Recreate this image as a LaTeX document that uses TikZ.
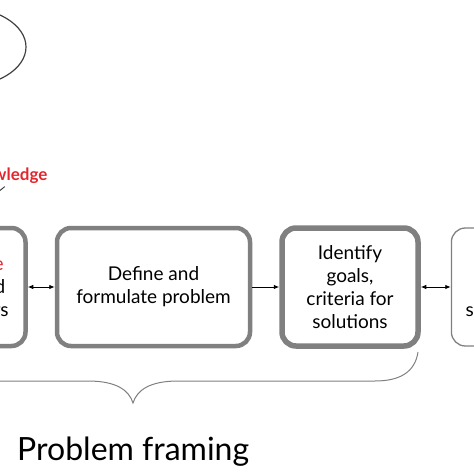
\documentclass[tikz,border=0pt]{standalone}
\usepackage{fontspec}
\setmainfont{Lato}
\usetikzlibrary{arrows.meta,positioning,shapes.geometric}
\definecolor{boxgray}{HTML}{808080}
\definecolor{knowred}{HTML}{E3262E}

\begin{document}
\begin{tikzpicture}[
  x=1pt,y=-1pt,
  node distance=27pt,
  stage/.style={draw=boxgray,line width=4.5pt,rounded corners=14pt,align=center,minimum width=134pt,minimum height=118pt,inner sep=2pt,font=\fontsize{19}{23}\selectfont},
  thinstage/.style={stage,line width=1.3pt},
  flow/.style={-{Latex[length=5.5pt,width=4.5pt]},line width=0.9pt},
  twoway/.style={{Latex[length=5.5pt,width=4.5pt]}-{Latex[length=5.5pt,width=4.5pt]},line width=0.9pt}
]
\useasboundingbox (0,0) rectangle (474,474);
\node[draw=black!75,line width=1.2pt,ellipse,minimum width=130pt,minimum height=80pt] (idea) at (-39,47) {};
\node[stage,minimum width=193pt] (n1) at (153.5,287) {Define and\\formulate problem};
\node[stage,left=of n1,minimum width=139pt] (n0) {\textcolor{knowred}{Explore the}\\context and\\stakeholders};
\node[stage,right=of n1,minimum width=136pt,line width=5.5pt] (n2) {Identify\\goals,\\criteria for\\solutions};
\node[thinstage,right=30pt of n2,minimum width=104pt] (n3) {Search\\for\\solutions};
\node[text=knowred,font=\bfseries\fontsize{17}{20}\selectfont,anchor=base east] (know) at (51,180) {Knowledge};
\draw[flow,black!80] (know.south) -- (n0.north);
\draw[twoway] (n0) -- (n1);
\draw[flow] (n1) -- (n2);
\draw[twoway] (n2) -- (n3);
% brace under the framing steps
\draw[boxgray,line width=1pt] (418,352) .. controls (415,372) and (400,381) .. (375,381) -- (178,381) .. controls (150,381) and (137,390) .. (133,403) .. controls (129,390) and (116,381) .. (88,381) -- (-110,381);
\node[anchor=base west,inner sep=0pt,font=\fontsize{32}{38}\selectfont] (frame) at (17,460) {Problem framing};
\end{tikzpicture}
\end{document}
